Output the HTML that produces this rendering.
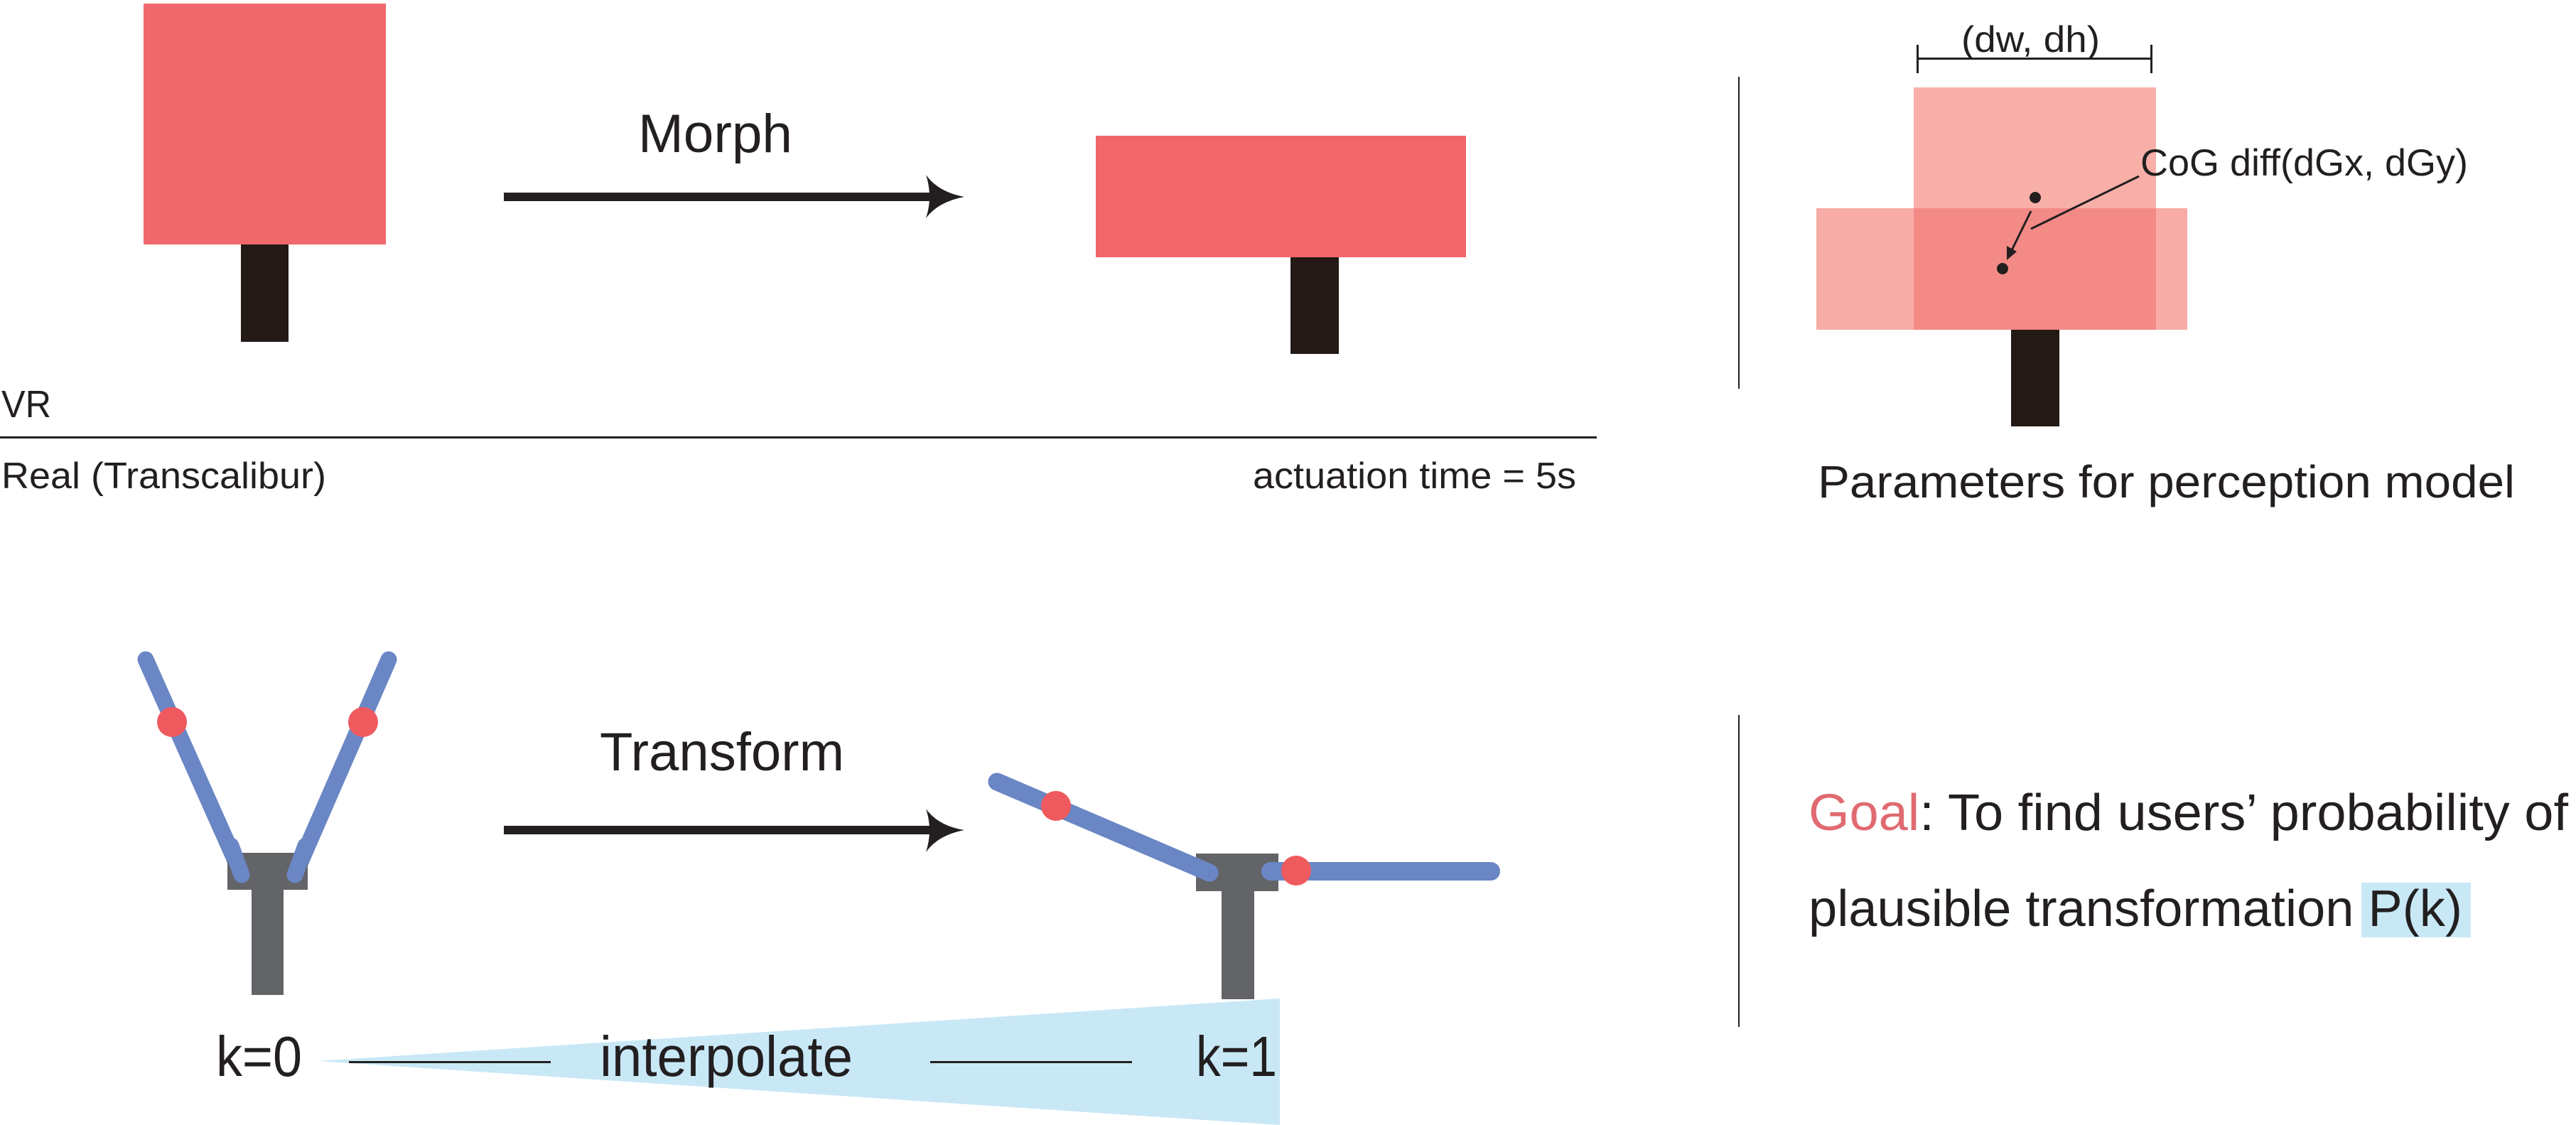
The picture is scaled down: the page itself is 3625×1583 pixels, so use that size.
<!DOCTYPE html>
<html><head><meta charset="utf-8"><style>html,body{margin:0;padding:0;background:#fff}svg{display:block}</style></head>
<body>
<svg width="3625" height="1583" viewBox="0 0 3625 1583" xmlns="http://www.w3.org/2000/svg" font-family="Liberation Sans, sans-serif" fill="#231f20">
<!-- top left -->
<rect x="202" y="5" width="341" height="339" fill="#f1686c"/>
<rect x="339" y="344" width="67" height="137" fill="#231a16"/>
<rect x="709" y="271" width="600" height="12" fill="#231f20"/>
<path d="M1303,246 Q1320,270 1357,277 Q1320,284 1303,307 Q1313,277 1303,246Z" fill="#231f20"/>
<text x="898" y="214" font-size="76" textLength="217" lengthAdjust="spacingAndGlyphs">Morph</text>
<rect x="1542" y="191" width="521" height="171" fill="#f1666b"/>
<rect x="1816" y="362" width="68" height="136" fill="#231a16"/>
<text x="2" y="587" font-size="54" textLength="70" lengthAdjust="spacingAndGlyphs">VR</text>
<rect x="0" y="614" width="2247" height="3" fill="#231f20"/>
<text x="2" y="687" font-size="52" textLength="457" lengthAdjust="spacingAndGlyphs">Real (Transcalibur)</text>
<text x="1763" y="687" font-size="52" textLength="455" lengthAdjust="spacingAndGlyphs">actuation time = 5s</text>
<!-- top right -->
<rect x="2446" y="108" width="2" height="439"/>
<text x="2760" y="73" font-size="52" textLength="195" lengthAdjust="spacingAndGlyphs">(dw, dh)</text>
<rect x="2698" y="81" width="330" height="3"/>
<rect x="2697" y="63" width="3" height="40"/>
<rect x="3026" y="63" width="3" height="40"/>
<rect x="2693" y="123" width="341" height="341" fill="#f8afa8"/>
<rect x="2556" y="293" width="522" height="171" fill="#f8aca6"/>
<rect x="2693" y="293" width="341" height="171" fill="#f48a86"/>
<circle cx="2864" cy="278" r="8"/>
<circle cx="2818" cy="378" r="8"/>
<line x1="2858" y1="297" x2="2830" y2="354" stroke="#231f20" stroke-width="3"/>
<path d="M2824,366 L2824,346 L2838,354Z"/>
<line x1="3010" y1="248" x2="2858" y2="322" stroke="#231f20" stroke-width="3"/>
<text x="3012" y="247" font-size="53" textLength="461" lengthAdjust="spacingAndGlyphs">CoG diff(dGx, dGy)</text>
<rect x="2830" y="464" width="68" height="136" fill="#231a16"/>
<text x="2558" y="700" font-size="64" textLength="981" lengthAdjust="spacingAndGlyphs">Parameters for perception model</text>
<!-- bottom left -->
<polygon points="447,1493 1801,1405 1801,1583" fill="#c8e8f6"/>
<line x1="205" y1="928" x2="340" y2="1231" stroke="#6a86c4" stroke-width="23" stroke-linecap="round"/>
<line x1="547" y1="928" x2="415" y2="1231" stroke="#6a86c4" stroke-width="23" stroke-linecap="round"/>
<rect x="320" y="1200" width="113" height="52" fill="#636468"/>
<line x1="325" y1="1190" x2="340" y2="1231" stroke="#6a86c4" stroke-width="23" stroke-linecap="round"/>
<line x1="430" y1="1190" x2="415" y2="1231" stroke="#6a86c4" stroke-width="23" stroke-linecap="round"/>
<rect x="354" y="1252" width="45" height="148" fill="#636468"/>
<circle cx="242" cy="1016" r="21" fill="#ef5a5e"/>
<circle cx="511" cy="1016" r="21" fill="#ef5a5e"/>
<text x="844" y="1084" font-size="76" textLength="344" lengthAdjust="spacingAndGlyphs">Transform</text>
<rect x="709" y="1162" width="600" height="12" fill="#231f20"/>
<path d="M1303,1138 Q1320,1162 1357,1168 Q1320,1175 1303,1199 Q1313,1168 1303,1138Z"/>
<rect x="1683" y="1201" width="116" height="53" fill="#636468"/>
<rect x="1719" y="1254" width="46" height="152" fill="#636468"/>
<line x1="1403" y1="1100" x2="1702" y2="1228" stroke="#6a86c4" stroke-width="25" stroke-linecap="round"/>
<line x1="1788" y1="1226" x2="2098" y2="1226" stroke="#6a86c4" stroke-width="26" stroke-linecap="round"/>
<circle cx="1486" cy="1134" r="21" fill="#ef5a5e"/>
<circle cx="1824" cy="1225" r="21" fill="#ef5a5e"/>
<text x="304" y="1514" font-size="80" textLength="121" lengthAdjust="spacingAndGlyphs">k=0</text>
<rect x="491" y="1493" width="284" height="3"/>
<text x="844" y="1514" font-size="80" textLength="356" lengthAdjust="spacingAndGlyphs">interpolate</text>
<rect x="1309" y="1493" width="284" height="3"/>
<text x="1683" y="1514" font-size="80" textLength="114" lengthAdjust="spacingAndGlyphs">k=1</text>
<!-- bottom right -->
<rect x="2446" y="1006" width="2" height="439"/>
<rect x="3323" y="1242" width="154" height="77" fill="#c8e8f6"/>
<text x="2545" y="1168" font-size="72" textLength="1069" lengthAdjust="spacingAndGlyphs"><tspan fill="#e06a70">Goal</tspan>: To find users’  probability of</text>
<text x="2545" y="1303" font-size="72" textLength="920" lengthAdjust="spacingAndGlyphs">plausible transformation P(k)</text>
</svg>
</body></html>
